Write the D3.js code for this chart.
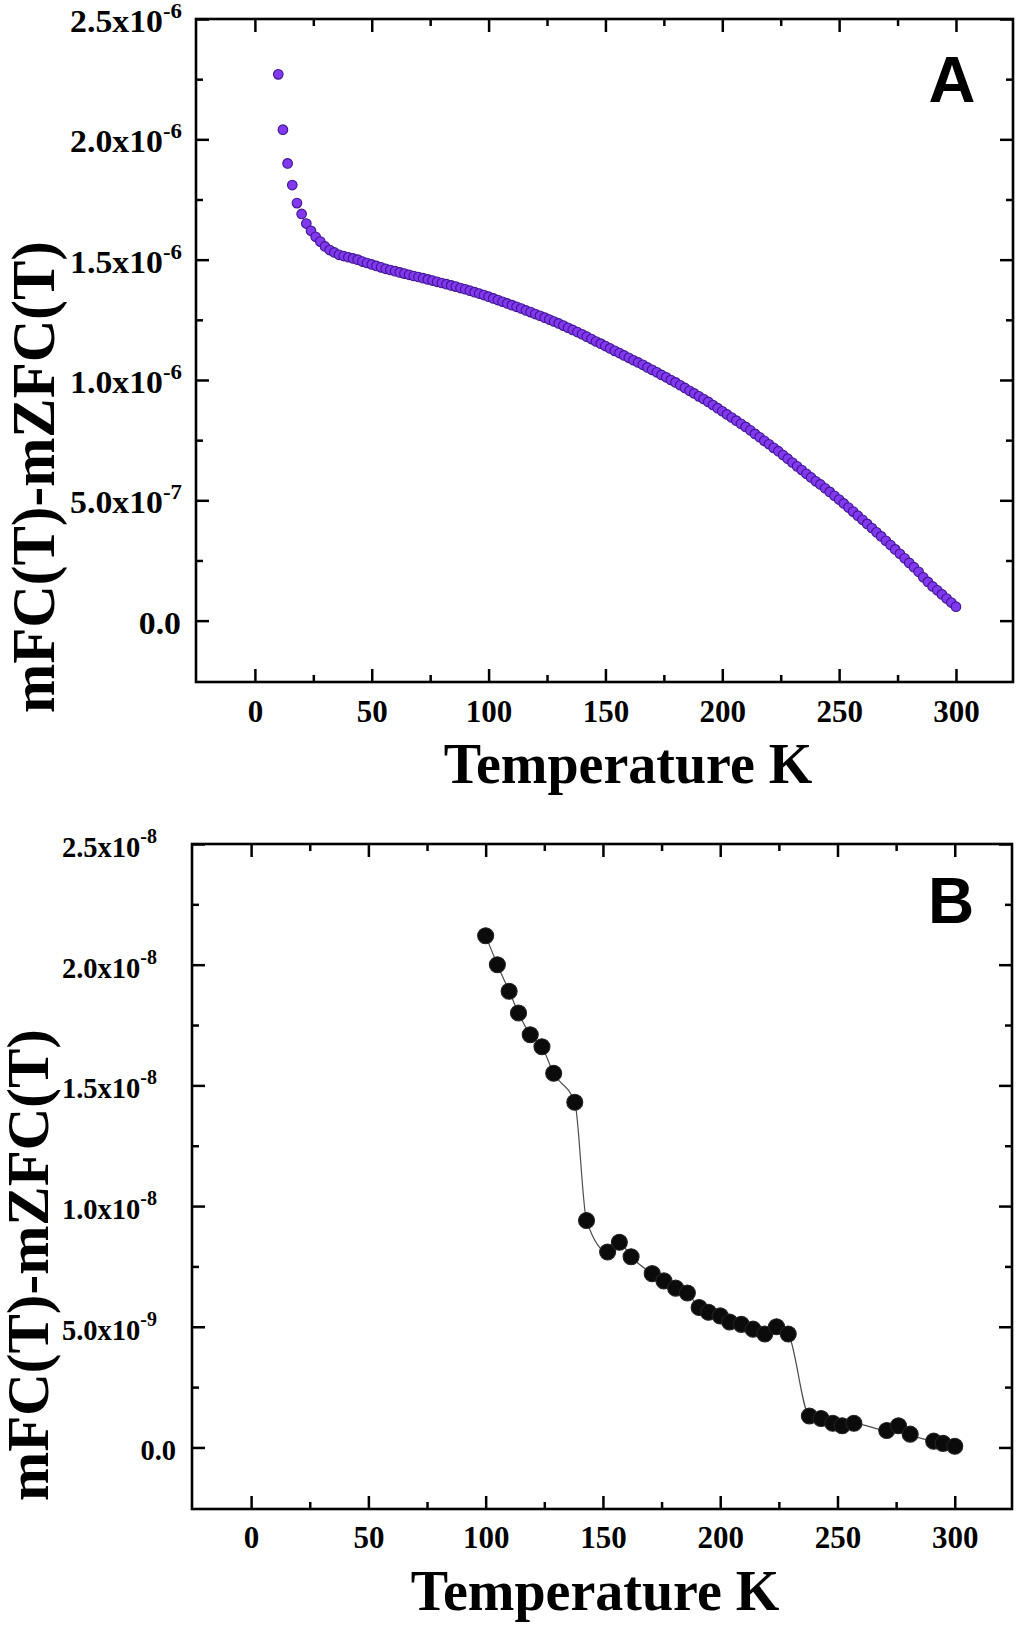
<!DOCTYPE html>
<html>
<head>
<meta charset="utf-8">
<script src="https://cdn.jsdelivr.net/npm/d3@7"></script>
<style>
  html, body { margin: 0; padding: 0; background: #fff; }
  svg { display: block; }
</style>
</head>
<body>
<div id="chart"></div>
<script>
// panel A: mFC - mZFC, values in units of 1e-6
const tempA = [10,12,14,16,18,20,22,24,26,28,30,32,34,36,38,40,42,44,46,48,
  50,52,54,56,58,60,62,64,66,68,70,72,74,76,78,80,82,84,86,88,
  90,92,94,96,98,100,102,104,106,108,110,112,114,116,118,120,122,124,126,128,
  130,132,134,136,138,140,142,144,146,148,150,152,154,156,158,160,162,164,166,168,
  170,172,174,176,178,180,182,184,186,188,190,192,194,196,198,200,202,204,206,208,
  210,212,214,216,218,220,222,224,226,228,230,232,234,236,238,240,242,244,246,248,
  250,252,254,256,258,260,262,264,266,268,270,272,274,276,278,280,282,284,286,288,
  290,292,294,296,298,300];
const momentA = [2.27,2.04,1.90,1.81,1.735,1.69,1.65,1.62,1.595,1.575,
  1.555,1.54,1.53,1.52,1.515,1.51,1.505,1.50,1.492,1.486,
  1.48,1.474,1.468,1.462,1.457,1.452,1.447,1.442,1.437,1.432,
  1.428,1.423,1.418,1.413,1.408,1.403,1.398,1.393,1.388,1.382,
  1.377,1.371,1.365,1.359,1.353,1.346,1.339,1.332,1.325,1.318,
  1.311,1.304,1.297,1.289,1.282,1.274,1.267,1.259,1.251,1.243,
  1.235,1.226,1.217,1.208,1.199,1.190,1.180,1.170,1.160,1.151,
  1.141,1.131,1.121,1.112,1.102,1.092,1.082,1.073,1.063,1.052,
  1.042,1.032,1.021,1.011,1.000,0.990,0.978,0.967,0.955,0.944,
  0.932,0.921,0.909,0.896,0.883,0.870,0.857,0.844,0.831,0.818,
  0.805,0.791,0.776,0.762,0.747,0.733,0.718,0.704,0.688,0.673,
  0.657,0.641,0.626,0.610,0.595,0.579,0.566,0.550,0.535,0.519,
  0.503,0.487,0.470,0.453,0.436,0.419,0.402,0.385,0.367,0.350,
  0.332,0.314,0.296,0.278,0.259,0.240,0.222,0.203,0.180,0.161,
  0.142,0.126,0.109,0.092,0.075,0.058];

// panel B: values in units of 1e-8
const tempB = [100,105,110,114,119,124,129,138,143,152,157,162,171,176,181,186,191,195,
  200,204,209,214,219,224,229,238,243,248,252,257,271,276,281,291,295,300];
const momentB = [2.12,2.00,1.89,1.80,1.71,1.66,1.55,1.43,0.94,0.81,0.85,0.79,0.72,0.69,0.66,0.64,0.58,0.56,
  0.545,0.52,0.51,0.49,0.47,0.50,0.47,0.13,0.12,0.10,0.09,0.10,0.07,0.09,0.055,0.026,0.017,0.005];

const xTicks = [0, 50, 100, 150, 200, 250, 300];
const xMinorTicks = [25, 75, 125, 175, 225, 275];
const yTicks = [0, 0.5, 1, 1.5, 2, 2.5];
const yMinorTicks = [0.25, 0.75, 1.25, 1.75, 2.25];
const yLabelsA = [['0.0', ''], ['5.0x10', '-7'], ['1.0x10', '-6'], ['1.5x10', '-6'], ['2.0x10', '-6'], ['2.5x10', '-6']];
const yLabelsB = [['0.0', ''], ['5.0x10', '-9'], ['1.0x10', '-8'], ['1.5x10', '-8'], ['2.0x10', '-8'], ['2.5x10', '-8']];
const xTitle = 'Temperature K';
const yTitle = 'mFC(T)-mZFC(T)';

(function() {
  const width = 1020;
  const height = 1627;
  const serif = '"Liberation Serif", "Times New Roman", Times, serif';
  const sans = '"Liberation Sans", Arial, Helvetica, sans-serif';

  const svg = d3.select('#chart').append('svg')
    .attr('width', width)
    .attr('height', height);

  const panels = [
    {
      letter: 'A', temp: tempA, moment: momentA, yLabels: yLabelsA,
      left: 196, right: 1013, top: 19, bottom: 682,
      labelSize: 31, labelScale: 1.09, supSize: 21, pad: 14, plainPad: 15,
      xLabelY: 40, xTitleX: 628, xTitleY: 783,
      yTitleX: 54, yTitleY: 477, yTitleScale: 1.05,
      letterX: 952, letterY: 102, letterSize: 65,
      line: false, r: 4.8, fill: '#8238ee', stroke: '#3d168f'
    },
    {
      letter: 'B', temp: tempB, moment: momentB, yLabels: yLabelsB,
      left: 192, right: 1012, top: 844, bottom: 1509,
      labelSize: 28.5, labelScale: 1, supSize: 20, pad: 35, plainPad: 16,
      xLabelY: 39, xTitleX: 595, xTitleY: 1610,
      yTitleX: 48, yTitleY: 1265, yTitleScale: 1,
      letterX: 951, letterY: 923, letterSize: 64,
      line: true, r: 8, fill: '#0b0b0b', stroke: '#222'
    }
  ];

  panels.forEach(p => {
    const xScale = d3.scaleLinear()
      .domain([-25.2, 324.4])
      .range([p.left, p.right]);
    const yScale = d3.scaleLinear()
      .domain([-0.255, 2.5])
      .range([p.bottom, p.top]);

    const g = svg.append('g');

    const styleTicks = sel => {
      sel.select('.domain').remove();
      sel.selectAll('.tick line')
        .attr('stroke', '#000')
        .attr('stroke-width', 2.5);
    };

    // minor ticks, all four sides, pointing in
    [[d3.axisBottom(xScale), `translate(0,${p.bottom})`, xMinorTicks],
     [d3.axisTop(xScale), `translate(0,${p.top})`, xMinorTicks],
     [d3.axisLeft(yScale), `translate(${p.left},0)`, yMinorTicks],
     [d3.axisRight(yScale), `translate(${p.right},0)`, yMinorTicks]].forEach(([ax, tr, vals]) => {
      g.append('g')
        .attr('transform', tr)
        .call(ax.tickValues(vals).tickSize(-7).tickFormat(''))
        .call(styleTicks);
    });

    // major ticks on top and right, no labels
    g.append('g')
      .attr('transform', `translate(0,${p.top})`)
      .call(d3.axisTop(xScale).tickValues(xTicks).tickSize(-13).tickFormat(''))
      .call(styleTicks);
    g.append('g')
      .attr('transform', `translate(${p.right},0)`)
      .call(d3.axisRight(yScale).tickValues(yTicks).tickSize(-13).tickFormat(''))
      .call(styleTicks);

    // bottom axis with labels
    const xAxisG = g.append('g')
      .attr('transform', `translate(0,${p.bottom})`)
      .call(d3.axisBottom(xScale).tickValues(xTicks).tickSize(-13).tickFormat(d3.format('d')))
      .call(styleTicks);
    xAxisG.selectAll('.tick text')
      .attr('y', p.xLabelY)
      .attr('dy', null)
      .attr('fill', '#000')
      .style('font-family', serif)
      .style('font-weight', 'bold')
      .style('font-size', '31px');

    // left axis with mantissa + superscript exponent labels
    const yAxisG = g.append('g')
      .attr('transform', `translate(${p.left},0)`)
      .call(d3.axisLeft(yScale).tickValues(yTicks).tickSize(-13)
        .tickFormat((d, i) => p.yLabels[i][0]))
      .call(styleTicks);
    yAxisG.selectAll('.tick text').each(function(d, i) {
      const exp = p.yLabels[i][1];
      const t = d3.select(this)
        .attr('x', null)
        .attr('dy', null)
        .attr('fill', '#000')
        .attr('text-anchor', 'end')
        .attr('transform', `translate(${-(exp ? p.pad : p.plainPad)},12.5) scale(${p.labelScale},1)`)
        .style('font-family', serif)
        .style('font-weight', 'bold')
        .style('font-size', p.labelSize + 'px');
      if (exp) {
        t.append('tspan')
          .attr('dy', -14)
          .style('font-size', p.supSize + 'px')
          .text(exp);
      }
    });

    // frame
    g.append('rect')
      .attr('x', p.left)
      .attr('y', p.top)
      .attr('width', p.right - p.left)
      .attr('height', p.bottom - p.top)
      .attr('fill', 'none')
      .attr('stroke', '#000')
      .attr('stroke-width', 2.6);

    const points = p.temp.map((t, i) => ({t: t, m: p.moment[i]}));

    if (p.line) {
      const line = d3.line()
        .curve(d3.curveMonotoneX)
        .x(d => xScale(d.t))
        .y(d => yScale(d.m));
      g.append('path')
        .datum(points)
        .attr('fill', 'none')
        .attr('stroke', '#4d4d4d')
        .attr('stroke-width', 1.2)
        .attr('d', line);
    }

    g.append('g')
      .selectAll('circle')
      .data(points)
      .join('circle')
      .attr('cx', d => xScale(d.t))
      .attr('cy', d => yScale(d.m))
      .attr('r', p.r)
      .attr('fill', p.fill)
      .attr('stroke', p.stroke)
      .attr('stroke-width', 1.1);

    // axis titles
    g.append('text')
      .attr('x', p.xTitleX)
      .attr('y', p.xTitleY)
      .attr('text-anchor', 'middle')
      .style('font-family', serif)
      .style('font-weight', 'bold')
      .style('font-size', '56px')
      .text(xTitle);
    g.append('text')
      .attr('transform', `translate(${p.yTitleX},${p.yTitleY}) rotate(-90) scale(1,${p.yTitleScale})`)
      .attr('text-anchor', 'middle')
      .style('font-family', serif)
      .style('font-weight', 'bold')
      .style('font-size', '59px')
      .text(yTitle);

    // panel letter
    g.append('text')
      .attr('x', p.letterX)
      .attr('y', p.letterY)
      .attr('text-anchor', 'middle')
      .style('font-family', sans)
      .style('font-weight', 'bold')
      .style('font-size', p.letterSize + 'px')
      .text(p.letter);
  });
})();
</script>
</body>
</html>
